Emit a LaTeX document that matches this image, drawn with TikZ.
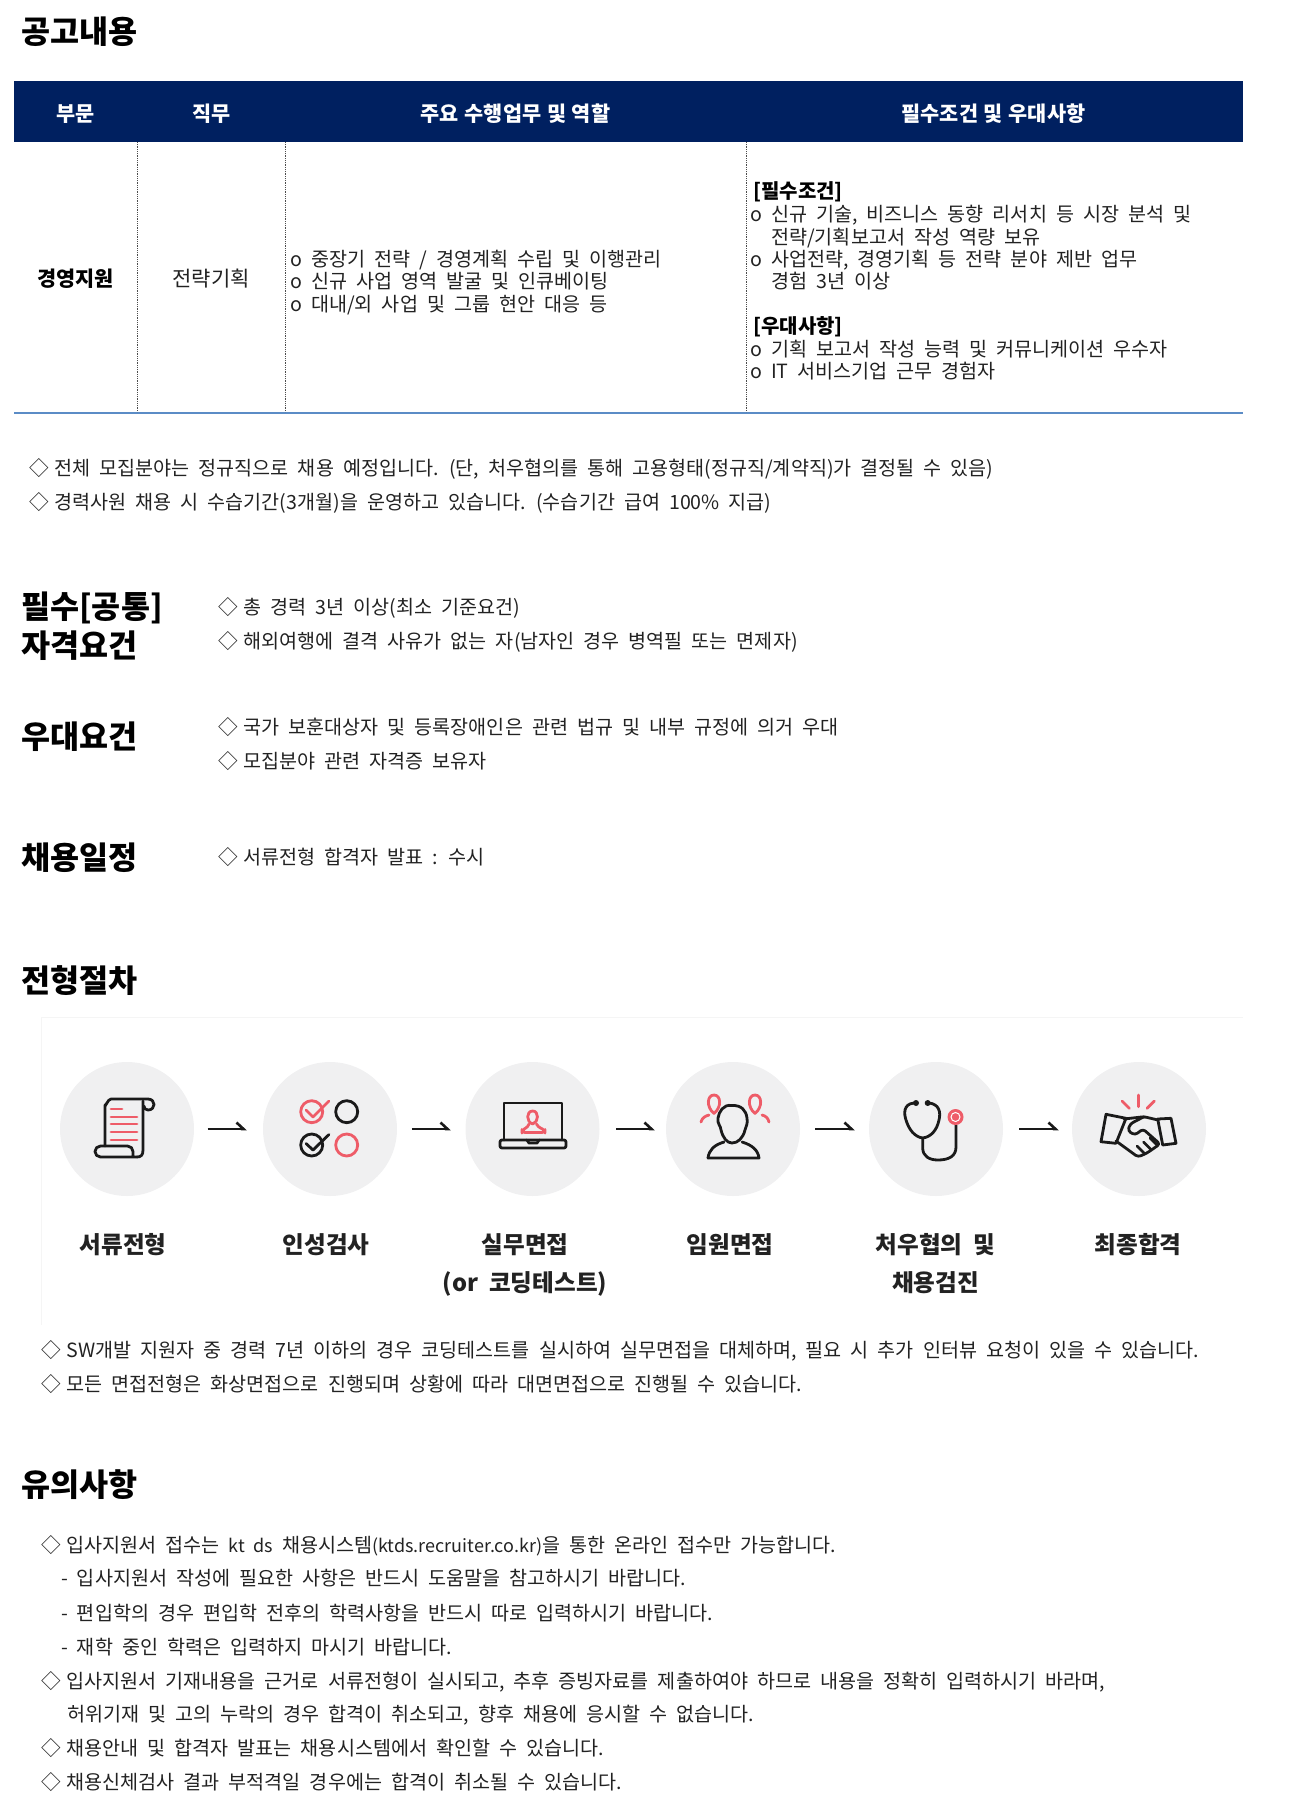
\documentclass[tikz,border=0pt]{standalone}
\usepackage{fontspec}
\setmainfont{Noto Sans CJK KR}[WordSpace=2.05]
\newfontfamily\headfont{Noto Sans CJK KR}[WordSpace=1.2]
\usetikzlibrary{arrows.meta}
\definecolor{headnavy}{HTML}{002060}
\definecolor{ruleblue}{HTML}{5B8CC6}
\definecolor{stepgray}{HTML}{F0F0F1}
\definecolor{iconred}{HTML}{EE5C68}
\definecolor{iconblack}{HTML}{1A1A1A}
\definecolor{inktext}{HTML}{222222}
\newcommand{\dia}{◇\hspace{5.8pt}}

\begin{document}
\begin{tikzpicture}[x=1pt,y=-1pt,
    titletext/.style={anchor=base west,inner sep=0pt,yshift=-1.2pt,font=\fontsize{31.6}{36}\selectfont\bfseries,text=black},
    bodytext/.style={anchor=base west,inner sep=0pt,yshift=-1.2pt,font=\fontsize{19.6}{24}\selectfont,text=inktext},
    tablehead/.style={anchor=base west,inner sep=0pt,yshift=-1.2pt,font=\fontsize{20}{24}\selectfont\bfseries,text=black},
    headtext/.style={anchor=base,inner sep=0pt,yshift=-1.2pt,font=\headfont\fontsize{20.8}{24}\selectfont\bfseries,text=white},
    steplabel/.style={anchor=base,inner sep=0pt,yshift=-1.2pt,font=\fontsize{23.6}{28}\selectfont\bfseries,text=inktext},
    stepcircle/.style={circle,fill=stepgray,draw=none,minimum size=134pt,inner sep=0pt},
    steparrow/.style={draw=iconblack,line width=2.6pt,-{Straight Barb[left,length=7pt,width=13pt]}},
    iconline/.style={draw=iconblack,line width=2.8pt,line join=round,line cap=round},
    iconmark/.style={draw=iconred,line width=2.8pt,line join=round,line cap=round}]
  \useasboundingbox (0,0) rectangle (1289,1807);

  % section titles
  \foreach \y/\txt [count=\i] in {42/공고내용,617/{필수[공통]},656/자격요건,747/우대요건,868/채용일정,991/전형절차,1495/유의사항}
    \node[titletext] (title\i) at (21,\y) {\txt};

  % table
  \fill[headnavy] (14,81) rectangle (1243,142);
  \draw[ruleblue,line width=2pt] (14,412.7) -- (1243,412.7);
  \foreach \x in {137.5,285.5,746.7}
    \draw[black!70,line width=0.8pt,densely dotted] (\x,142) -- (\x,412);
  \foreach \x/\txt [count=\i] in {75.5/부문,211.5/직무,515.5/주요 수행업무 및 역할,993.5/필수조건 및 우대사항}
    \node[headtext] (head\i) at (\x,120) {\txt};
  \node[tablehead,anchor=base,font=\fontsize{20.8}{24}\selectfont\bfseries] (dept) at (75.5,285) {경영지원};
  \node[bodytext,anchor=base,font=\fontsize{21}{24}\selectfont] (job) at (211,285) {전략기획};
  \foreach \x/\y/\txt [count=\i] in {
      290/265/o,311/265/{중장기 전략 / 경영계획 수립 및 이행관리},
      290/287/o,311/287/{신규 사업 영역 발굴 및 인큐베이팅},
      290/310/o,311/310/{대내/외 사업 및 그룹 현안 대응 등},
      750/220/o,771/220/{신규 기술, 비즈니스 동향 리서치 등 시장 분석 및},
      771/243/{전략/기획보고서 작성 역량 보유},
      750/265/o,771/265/{사업전략, 경영기획 등 전략 분야 제반 업무},
      771/287/{경험 3년 이상},
      750/355/o,771/355/{기획 보고서 작성 능력 및 커뮤니케이션 우수자},
      750/377/o,771/377/{IT 서비스기업 근무 경험자}}
    \node[bodytext] (cell\i) at (\x,\y) {\txt};
  \node[tablehead] (must) at (753,197) {[필수조건]};
  \node[tablehead] (plus) at (753,332) {[우대사항]};

  % notes and lists
  \foreach \x/\y/\txt [count=\i] in {
      29/474/{\dia 전체 모집분야는 정규직으로 채용 예정입니다. (단, 처우협의를 통해 고용형태(정규직/계약직)가 결정될 수 있음)},
      29/508/{\dia 경력사원 채용 시 수습기간(3개월)을 운영하고 있습니다. (수습기간 급여 100\% 지급)},
      218/613/{\dia 총 경력 3년 이상(최소 기준요건)},
      218/647/{\dia 해외여행에 결격 사유가 없는 자(남자인 경우 병역필 또는 면제자)},
      218/733/{\dia 국가 보훈대상자 및 등록장애인은 관련 법규 및 내부 규정에 의거 우대},
      218/767/{\dia 모집분야 관련 자격증 보유자},
      218/863/{\dia 서류전형 합격자 발표 : 수시},
      41/1356/{\dia SW개발 지원자 중 경력 7년 이하의 경우 코딩테스트를 실시하여 실무면접을 대체하며, 필요 시 추가 인터뷰 요청이 있을 수 있습니다.},
      41/1390/{\dia 모든 면접전형은 화상면접으로 진행되며 상황에 따라 대면면접으로 진행될 수 있습니다.},
      41/1551/{\dia 입사지원서 접수는 {\fontsize{18}{24}\selectfont kt ds} 채용시스템{\fontsize{18}{24}\selectfont (ktds.recruiter.co.kr)}을 통한 온라인 접수만 가능합니다.},
      61/1584/{- 입사지원서 작성에 필요한 사항은 반드시 도움말을 참고하시기 바랍니다.},
      61/1619/{- 편입학의 경우 편입학 전후의 학력사항을 반드시 따로 입력하시기 바랍니다.},
      61/1653/{- 재학 중인 학력은 입력하지 마시기 바랍니다.},
      41/1687/{\dia 입사지원서 기재내용을 근거로 서류전형이 실시되고, 추후 증빙자료를 제출하여야 하므로 내용을 정확히 입력하시기 바라며,},
      67/1720/{허위기재 및 고의 누락의 경우 합격이 취소되고, 향후 채용에 응시할 수 없습니다.},
      41/1754/{\dia 채용안내 및 합격자 발표는 채용시스템에서 확인할 수 있습니다.},
      41/1788/{\dia 채용신체검사 결과 부적격일 경우에는 합격이 취소될 수 있습니다.}}
    \node[bodytext] (note\i) at (\x,\y) {\txt};

  % process image
  \draw[black!4,line width=1pt] (41.5,1325) -- (41.5,1017) -- (1243,1017);
  \foreach \x [count=\i] in {127,330,532.5,733,936,1139}
    \node[stepcircle] (step\i) at (\x,1129) {};
  \foreach \from/\to/\a/\b in {1/2/13.5/16,2/3/14.6/14.5,3/4/16.5/11,4/5/15/14,5/6/16/13}
    \draw[steparrow,shorten <=\a pt,shorten >=\b pt] (step\from) -- (step\to);
  \foreach \x/\y/\txt [count=\i] in {123/1252/서류전형,326/1252/인성검사,525/1252/실무면접,525/1290/{(or 코딩테스트)},
      730/1252/임원면접,935.5/1252/{처우협의 및},935.5/1290/채용검진,1138/1252/최종합격}
    \node[steplabel] (label\i) at (\x,\y) {\txt};

  % scroll icon
  \draw[iconline] (105,1146) -- (105,1105) to[out=-90,in=180] (111,1099) -- (148,1099)
    .. controls (156,1099) and (156,1110) .. (148,1110) .. controls (145,1110) and (144,1108) .. (144,1106);
  \draw[iconline] (143,1101) -- (143,1150) .. controls (143,1155) and (141,1157) .. (137,1157);
  \draw[iconline,rounded corners=5.5pt] (137,1157) -- (95,1157) -- (95,1146) -- (133,1146) -- (133,1157);
  \draw[iconmark] (111,1109) -- (122,1109);
  \foreach \y in {1117,1124,1132,1140}
    \draw[iconmark] (111,\y) -- (137,\y);

  % checklist icon
  \draw[iconmark] (311.7,1111.7) circle (11);
  \draw[iconline] (346.7,1111.7) circle (11);
  \draw[iconline] (311.7,1145) circle (11);
  \draw[iconmark] (346.7,1145) circle (11);
  \draw[iconmark] (306,1110) -- (313,1117) -- (329,1101);
  \draw[iconline] (306,1143.5) -- (313,1150) -- (329,1134.5);

  % laptop icon
  \draw[iconline] (504,1140) -- (504,1103) -- (562,1103) -- (562,1140);
  \draw[iconline,rounded corners=2pt] (500,1140) rectangle (566,1148);
  \draw[iconline] (527,1140) -- (529,1143) -- (537,1143) -- (539,1140);
  \draw[iconmark] (532.7,1124) .. controls (526,1122) and (526,1111) .. (532.7,1111) .. controls (539,1111) and (539,1122) .. (532.7,1124);
  \draw[iconmark,rounded corners=3pt] (529,1124) -- (528,1127) -- (522,1130) -- (522,1132.5) -- (545,1132.5) -- (545,1130) -- (538,1127) -- (536.5,1124);

  % people icon
  \draw[iconline] (732,1105.5) .. controls (723,1104) and (719,1112) .. (718,1118) .. controls (717,1124) and (721,1126) .. (721,1130)
    .. controls (723,1138) and (727,1143) .. (732,1143) .. controls (738,1143) and (743,1138) .. (745,1130)
    .. controls (746,1126) and (748,1124) .. (747,1118) .. controls (746,1110) and (741,1105) .. (732,1105.5);
  \draw[iconline] (708,1158) .. controls (709,1150) and (714,1145) .. (724,1142);
  \draw[iconline] (742,1142) .. controls (752,1145) and (758,1150) .. (759,1158) -- (708,1158);
  \foreach \x in {714,755}
    \draw[iconmark] (\x,1113.5) .. controls (\x-8,1107) and (\x-7,1095) .. (\x,1095) .. controls (\x+7,1095) and (\x+8,1107) .. (\x,1113.5);
  \draw[iconmark] (701,1122) .. controls (702,1118) and (705,1116) .. (709,1115);
  \draw[iconmark] (762,1115) .. controls (766,1116) and (768,1118) .. (769,1122);

  % stethoscope icon
  \draw[iconline] (914,1103) .. controls (903,1104) and (904,1114) .. (906,1120) .. controls (909,1130) and (915,1137) .. (922.7,1138)
    .. controls (931,1137) and (937,1130) .. (939,1120) .. controls (941,1112) and (939,1104) .. (929,1103);
  \fill[iconblack] (916,1103) circle (3);
  \fill[iconblack] (927.7,1103) circle (3);
  \draw[iconline] (922.7,1138) -- (922.7,1148) .. controls (922.7,1156) and (929,1160) .. (938,1160)
    .. controls (949,1160) and (956,1156) .. (956,1147) -- (956,1125);
  \fill[iconred] (955.5,1117) circle (8);
  \draw[white,line width=1pt] (955.5,1117) circle (4.5);

  % handshake icon
  \draw[iconmark] (1138.3,1095) -- (1138.3,1106.7);
  \draw[iconmark] (1122,1101) -- (1129.3,1108.3);
  \draw[iconmark] (1154.3,1101) -- (1147,1108.3);
  \draw[iconline] (1106,1114.3) -- (1126,1118.3) -- (1116,1143.3) -- (1101,1141.7) -- cycle;
  \draw[iconline] (1157.7,1119) -- (1171,1118.3) -- (1176,1143.3) -- (1162.7,1145) -- cycle;
  \draw[iconline,rounded corners=2pt] (1124,1119) -- (1144,1116.7) -- (1158,1120);
  \draw[iconline,rounded corners=3pt] (1144,1116.7) -- (1130,1124) -- (1128,1131) -- (1135,1135) -- (1143,1129) -- (1160,1144) -- (1147,1153) -- (1138,1157) -- (1116,1141);
  \foreach \x/\y in {1137/1146,1143.5/1142,1150/1138}
    \draw[iconline] (\x,\y) -- (\x+7,\y+7);
\end{tikzpicture}
\end{document}
